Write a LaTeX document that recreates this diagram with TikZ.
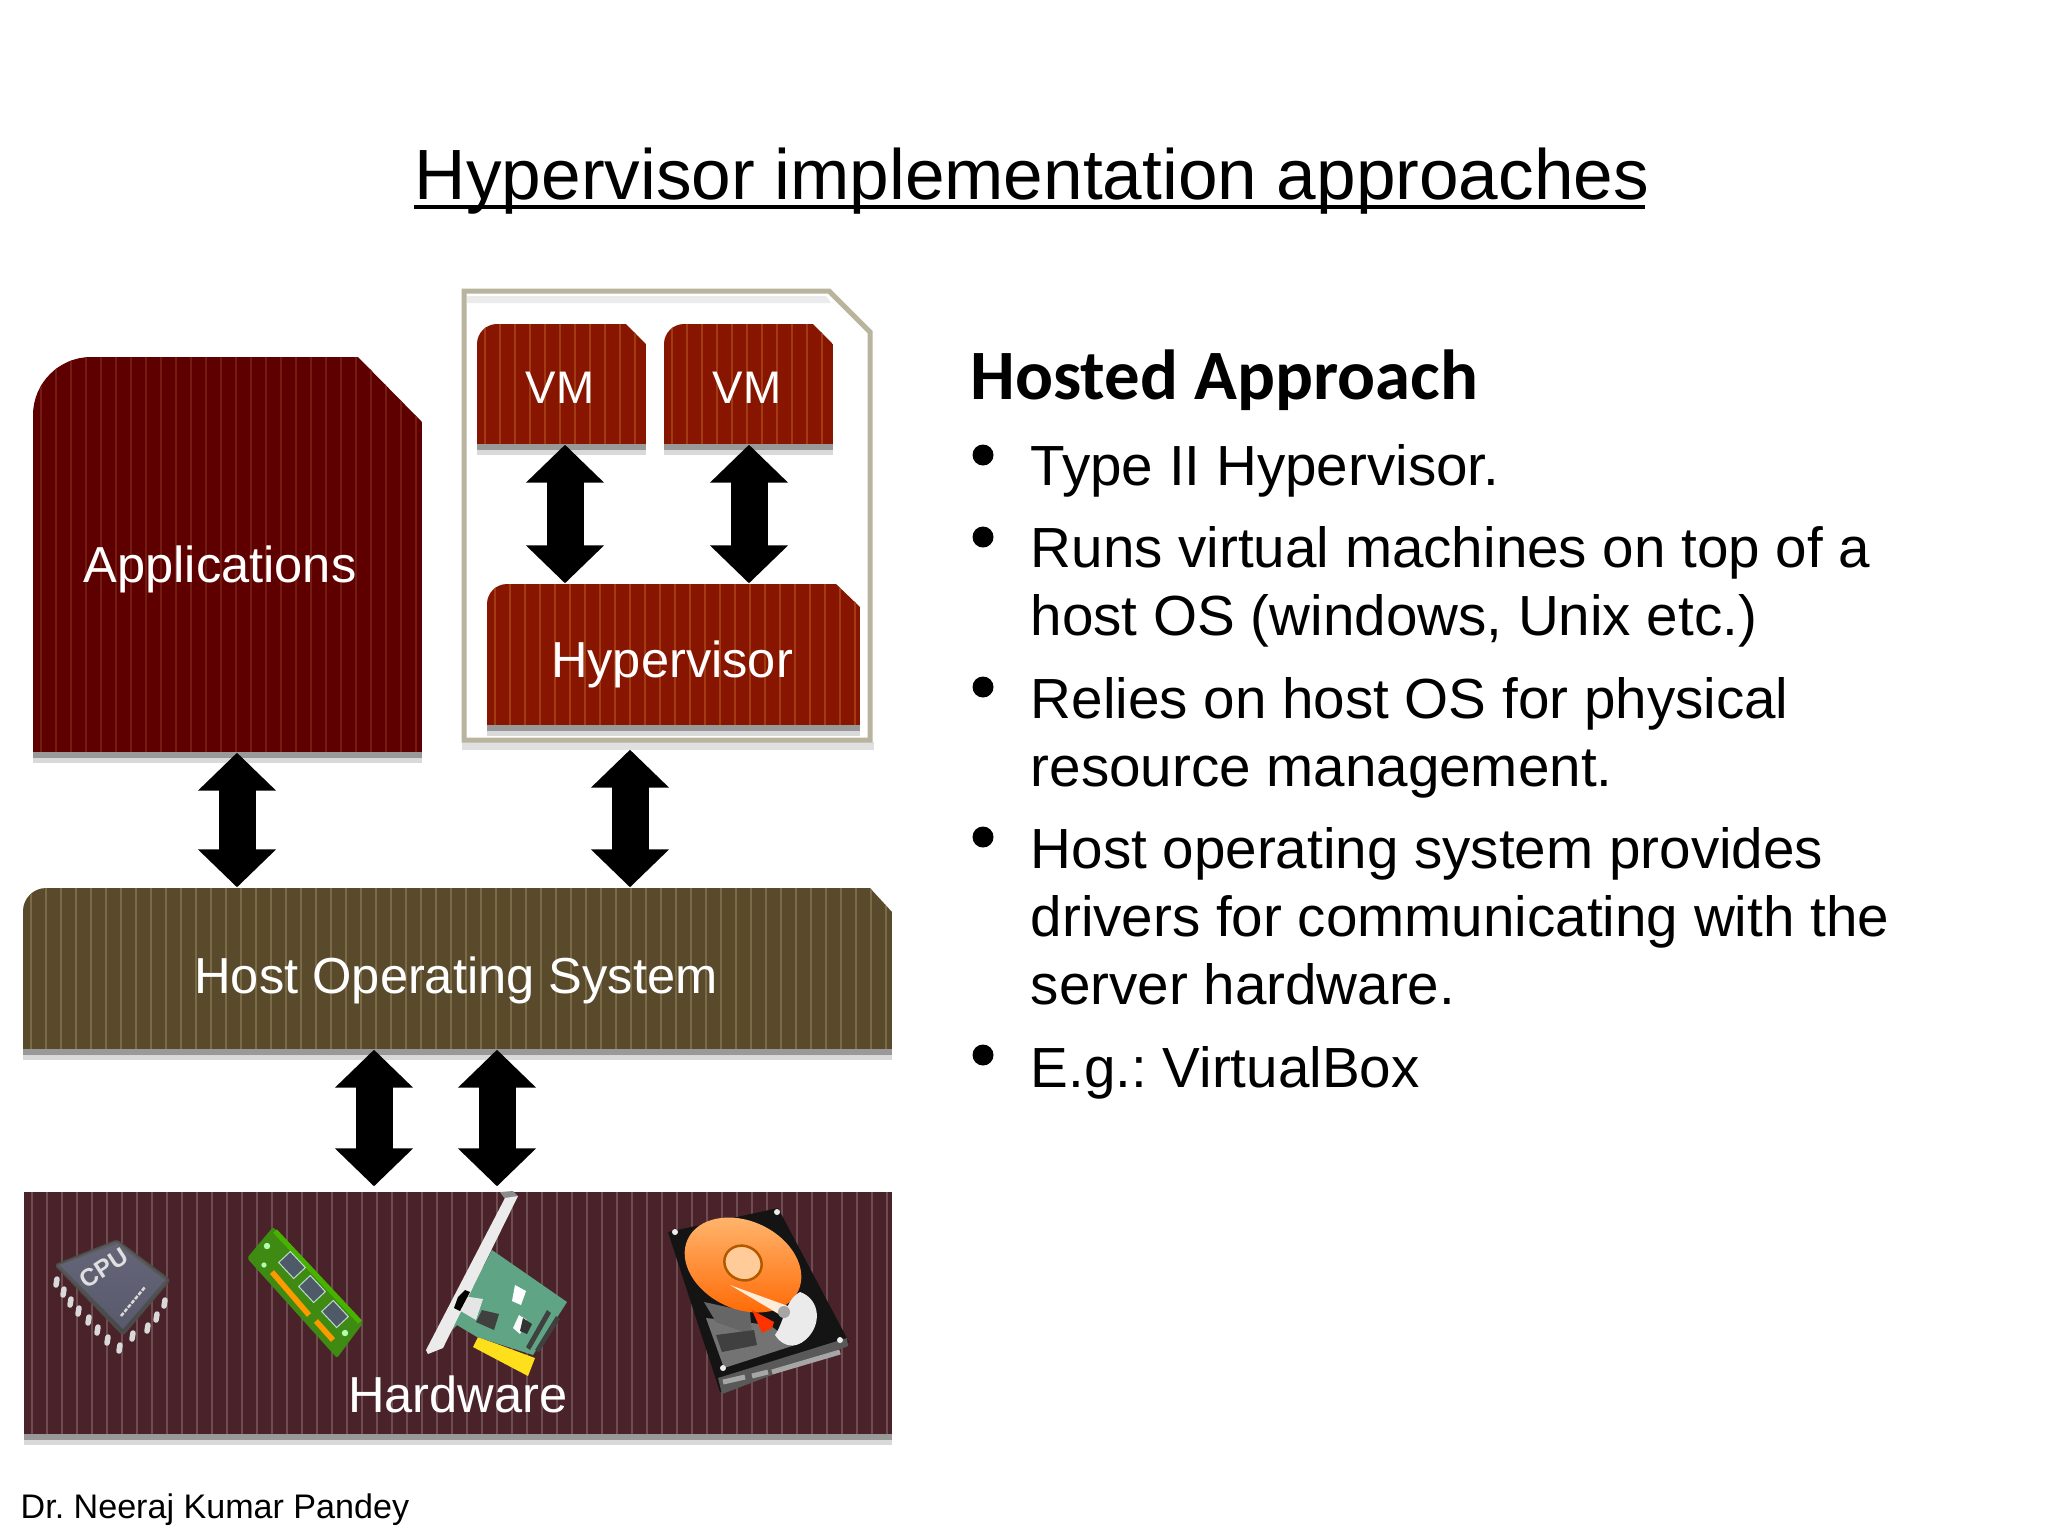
\documentclass[tikz,border=0pt]{standalone}
\usepackage{fontspec}
\setmainfont{Liberation Sans}
\newfontfamily\headfont{Carlito}
\usetikzlibrary{arrows.meta}
\frenchspacing

\definecolor{appsfill}{HTML}{5E0000}
\definecolor{appsline}{HTML}{741C12}
\definecolor{vmfill}{HTML}{881500}
\definecolor{vmline}{HTML}{A23A12}
\definecolor{osfill}{HTML}{594A2C}
\definecolor{osline}{HTML}{7C6B48}
\definecolor{hwfill}{HTML}{4A232A}
\definecolor{hwline}{HTML}{6F4B52}
\definecolor{framecol}{HTML}{B9B49E}
\definecolor{cardgreen}{HTML}{5FA585}
\definecolor{ramgreen}{HTML}{3F8A12}
\definecolor{chipgrey}{HTML}{4E5A68}

\tikzset{
  blocklabel/.style={anchor=base,text=white,font=\fontsize{14.4}{17}\selectfont},
  vmlabel/.style={anchor=base,text=white,font=\fontsize{13}{16}\selectfont},
  bigarrow/.style={{Triangle[length=3.8mm,width=7.6mm]}-{Triangle[length=3.8mm,width=7.6mm]},line width=3.7mm,black},
  item/.style={anchor=base west,align=left,inner sep=0pt,font=\fontsize{16.1}{19.35}\selectfont},
  bulletdot/.style={circle,fill=black,minimum size=2.1mm,inner sep=0pt},
  pin/.style={line width=0.55mm,line cap=round,draw=black!15}
}

% name, left, top, right, bottom, cut x, cut y, radius, colour prefix
\newcommand{\stripeblock}[9]{
  \fill[black!40] (#2,#5) rectangle (#4,#5+6);
  \fill[black!15] (#2,#5+6) rectangle (#4,#5+11);
  \begin{scope}
    \clip (#2,#5) -- (#2,#3+#8+0.01) .. controls (#2,#3+0.45*#8) and (#2+0.45*#8,#3) .. (#2+#8+0.01,#3) -- (#4-#6,#3) -- (#4,#3+#7) -- (#4,#5) -- cycle;
    \fill[#9fill] (#2,#3) rectangle (#4,#5);
    \foreach \sx in {8,23,...,880}
      \draw[#9line,line width=0.18mm] (#2+\sx,#3) -- (#2+\sx,#5);
  \end{scope}
  \node[minimum width={(#4-#2)*0.1mm},minimum height={(#5-#3)*0.1mm},inner sep=0pt] (#1) at ({(#2+#4)/2},{(#3+#5)/2}) {};
}

\begin{document}
\begin{tikzpicture}[x=0.1mm,y=-0.1mm]
    \useasboundingbox (0,0) rectangle (2048,1536);

    % title
    \node[anchor=base,inner sep=0pt,font=\fontsize{20.25}{24}\selectfont] (title) at (1032,199) {Hypervisor implementation approaches};
    \draw[line width=0.35mm] (title.base west) ++(0,8) -- ++(1231,0);

    % left column
    \stripeblock{apps}{33}{357}{422}{752}{64}{65}{58}{apps}

    \fill[black!12] (462,742) rectangle (874,750);
    \draw[framecol,line width=0.5mm,fill=white] (464,291) -- (829,291) -- (870,332) -- (870,740) -- (464,740) -- cycle;
    \fill[black!8] (467,296) -- (826,296) -- (831,303) -- (467,303) -- cycle;
    \node[minimum width=40.6mm,minimum height=44.9mm,inner sep=0pt] (vmframe) at (667,515.5) {};

    \stripeblock{vma}{477}{324}{646}{444}{20}{20}{20}{vm}
    \stripeblock{vmb}{664}{324}{833}{444}{20}{20}{20}{vm}
    \stripeblock{hypervisor}{487}{584}{860}{725}{24}{23}{20}{vm}
    \stripeblock{hostos}{23}{888}{892}{1049}{22}{24}{23}{os}
    \stripeblock{hardware}{24}{1192}{892}{1434}{0}{0}{0}{hw}

    \node[blocklabel] (appstext) at (220,582) {Applications};
    \node[vmlabel] (vmatext) at (560,403) {VM};
    \node[vmlabel] (vmbtext) at (747,403) {VM};
    \node[blocklabel] (hypertext) at (672,677) {Hypervisor};
    \node[blocklabel] (ostext) at (456,993) {Host Operating System};
    \node[blocklabel] (hwtext) at (458,1412) {Hardware};

    \draw[bigarrow] (vma.south -| 565,0) -- (hypervisor.north -| 565,0);
    \draw[bigarrow] (vmb.south -| 749,0) -- (hypervisor.north -| 749,0);
    \draw[bigarrow] (apps.south -| 237,0) -- (hostos.north -| 237,0);
    \draw[bigarrow,shorten <=0.9mm] (vmframe.south -| 630,0) -- (hostos.north -| 630,0);
    \draw[bigarrow,shorten >=0.5mm] (hostos.south -| 374,0) -- (hardware.north -| 374,0);
    \draw[bigarrow,shorten >=0.5mm] (hostos.south -| 497,0) -- (hardware.north -| 497,0);

    % cpu
    \foreach \px/\py in {57/1279,64/1289,71/1299,79/1308,89/1317,98/1327,108/1337,120/1345,133/1333,148/1325,157/1314,165/1300}
      \draw[pin] (\px,\py) -- ++(-1,6);
    \shade[top color=black!25!gray,bottom color=black!45!gray,draw=black!70,rounded corners=0.3mm] (55,1265) -- (117,1240) -- (170,1280) -- (123,1335) -- cycle;
    \fill[blue!15!gray,opacity=0.5] (60,1265) -- (117,1244) -- (165,1280) -- (123,1329) -- cycle;
    \node[rotate=33,text=white!75!gray,inner sep=0pt,font=\fontsize{7}{8}\selectfont\bfseries] (cputext) at (104,1268) {CPU};
    \draw[white!70!gray,line width=0.25mm,dash pattern=on 0.4mm off 0.15mm] (121,1316) -- (145,1287);

    % memory
    \fill[ramgreen,rounded corners=0.2mm] (273,1227) -- (363,1323) -- (337,1358) -- (247,1258) -- cycle;
    \draw[green!60!yellow!70!black,line width=0.5mm] (275,1231) -- (360,1322);
    \foreach \cx/\cy in {292/1265,312/1289,335/1314}
      \fill[chipgrey,draw=white!60!cardgreen,line width=0.1mm,rotate around={-47:(\cx,\cy)}] (\cx-11,\cy-8) rectangle (\cx+11,\cy+8);
    \draw[orange!80!yellow,line width=0.55mm] (272,1272) -- (309,1315);
    \draw[orange!80!yellow,line width=0.55mm] (316,1321) -- (333,1340);
    \fill[white!70!green] (267,1246) circle (3.2) (264,1265) circle (2.6) (345,1333) circle (3.2);

    % network card
    \fill[yellow!80!orange!90!white] (478,1337) -- (535,1358) -- (528,1376) -- (473,1347) -- cycle;
    \fill[cardgreen] (492,1250) -- (567,1302) -- (533,1355) -- (477,1337) -- (457,1325) -- (449,1333) -- cycle;
    \fill[black!75] (547,1310) -- (526,1347) -- (530,1350) -- (551,1313) -- cycle;
    \fill[black!75] (556,1316) -- (535,1350) -- (539,1352) -- (560,1319) -- cycle;
    \fill[black!75] (482,1310) -- (499,1314) -- (494,1330) -- (476,1322) -- cycle;
    \fill[black!10] (463,1296) -- (483,1299) -- (476,1320) -- (459,1310) -- cycle;
    \fill[white] (515,1285) -- (526,1291) -- (521,1305) -- (512,1301) -- cycle;
    \fill[white!95!gray] (519,1315) -- (527,1320) -- (520,1334) -- (513,1328) -- cycle;
    \fill[black!80] (523,1318) -- (532,1324) -- (527,1334) -- (520,1331) -- cycle;
    \fill[black!45] (500,1192) -- (513,1191) -- (518,1196) -- (505,1199) -- cycle;
    \fill[black!8] (505,1198) -- (518,1196) -- (443,1348) -- (428,1354) -- (426,1350) -- cycle;
    \fill[black] (458,1297) -- (465,1290) -- (470,1292) -- (460,1311) -- (454,1308) -- cycle;

    % disk
    \fill[black!92] (668,1232) -- (778,1208) -- (849,1342) -- (720,1392) -- cycle;
    \fill[black!65] (718,1378) -- (847,1338) -- (848,1346) -- (722,1394) -- cycle;
    \draw[black!35,line width=0.5mm] (723,1382) -- (745,1377) (752,1376) -- (768,1372) (772,1372) -- (840,1352);
    \fill[black!55] (706,1318) -- (770,1325) -- (795,1345) -- (724,1368) -- cycle;
    \fill[black!60] (704,1302) -- (750,1312) -- (752,1335) -- (716,1322) -- cycle;
    \fill[black!75!white] (716,1335) -- (754,1330) -- (757,1345) -- (722,1352) -- cycle;
    \shade[top color=orange!55!white,bottom color=orange!80!red,rotate around={-25:(743,1265)}] (743,1265) ellipse (61 and 44);
    \draw[orange!70!black,fill=orange!40!white,line width=0.25mm,rotate around={-25:(743,1263)}] (743,1263) ellipse (19 and 17);
    \fill[black!8] (800,1292) .. controls (818,1298) and (822,1320) .. (810,1335) .. controls (800,1348) and (785,1350) .. (775,1335) .. controls (785,1320) and (785,1300) .. (800,1292) -- cycle;
    \fill[red!60!orange] (752,1310) -- (774,1322) -- (772,1328) -- (762,1333) -- cycle;
    \fill[white!85!orange] (730,1285) -- (788,1306) -- (782,1316) -- cycle;
    \fill[black!35] (784,1312) circle (6);
    \foreach \sx/\sy in {675/1232,777/1212,840/1340,723/1368}
      \fill[white!85!gray] (\sx,\sy) circle (3);

    % right column
    \node[anchor=base west,inner sep=0pt,font=\fontsize{20.15}{24}\selectfont\headfont\bfseries] (heading) at (970,399) {Hosted Approach};

    \node[bulletdot] (dota) at (983,455) {};
    \node[bulletdot] (dotb) at (983,537) {};
    \node[bulletdot] (dotc) at (983,687) {};
    \node[bulletdot] (dotd) at (983,837) {};
    \node[bulletdot] (dote) at (983,1055) {};

    \node[item] (itema) at (1030,485) {Type II Hypervisor.};
    \node[item] (itemb) at (1030,635) {Runs virtual machines on top of a\\host OS (windows, Unix etc.)};
    \node[item] (itemc) at (1030,786) {Relies on host OS for physical\\resource management.};
    \node[item] (itemd) at (1030,1004) {Host operating system provides\\drivers for communicating with the\\server hardware.};
    \node[item] (iteme) at (1030,1087) {E.g.: VirtualBox};

    % footer
    \node[anchor=base west,inner sep=0pt,font=\fontsize{9.7}{12}\selectfont] (footer) at (20,1518) {Dr. Neeraj Kumar Pandey};
\end{tikzpicture}
\end{document}
